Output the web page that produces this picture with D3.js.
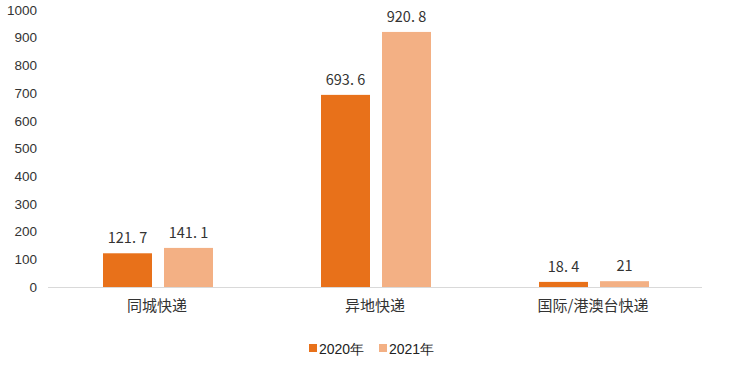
<!DOCTYPE html>
<html><head><meta charset="utf-8">
<script src="https://cdn.jsdelivr.net/npm/d3@7"></script>
<style>body{margin:0;background:#fff}svg{display:block}</style>
</head><body>
<svg id="c" width="740" height="369"></svg>
<script>
const categories = ["同城快递", "异地快递", "国际/港澳台快递"];
const series = ["2020年", "2021年"];
const values2020 = [121.7, 693.6, 18.4];
const values2021 = [141.1, 920.8, 21];
const labels2020 = ["121. 7", "693. 6", "18. 4"];
const labels2021 = ["141. 1", "920. 8", "21"];
const yTicks = [0,100,200,300,400,500,600,700,800,900,1000];
const colors = ["#E8711A", "#F3B084"];

const svg = d3.select("#c");
const y = d3.scaleLinear().domain([0,1000]).range([287,10]);
const x0 = d3.scaleBand().domain(categories).range([48,702]);
const x1 = d3.scaleBand().domain(series).range([55,165]).paddingInner(0.197);

// y tick labels
svg.append("g").selectAll("text").data(yTicks).join("text")
  .attr("x",37).attr("y",d=>y(d)).attr("dy","0.35em")
  .attr("text-anchor","end").attr("font-family","Liberation Sans, Arial, sans-serif")
  .attr("font-size",13.5).attr("fill","#333").text(d=>d);

const data = [values2020, values2021];
const lbls = [labels2020, labels2021];
series.forEach((s,si)=>{
  const g = svg.append("g");
  g.selectAll("rect").data(categories).join("rect")
    .attr("x",c=>x0(c)+x1(s)).attr("width",x1.bandwidth())
    .attr("y",(c,i)=>y(data[si][i])).attr("height",(c,i)=>y(0)-y(data[si][i]))
    .attr("fill",colors[si]);
  g.selectAll("text").data(categories).join("text")
    .attr("x",c=>x0(c)+x1(s)+x1.bandwidth()/2)
    .attr("y",(c,i)=>y(data[si][i])-10)
    .attr("text-anchor","middle")
    .attr("font-family","Noto Sans CJK SC, sans-serif").attr("font-size",14.5)
    .attr("fill","#333").text((c,i)=>lbls[si][i]);
});

// axis line
svg.append("line").attr("x1",48).attr("x2",702).attr("y1",y(0)+0.5).attr("y2",y(0)+0.5)
  .attr("stroke","#d9d9d9").attr("stroke-width",1);

// category labels
svg.append("g").selectAll("text").data(categories).join("text")
  .attr("x",c=>x0(c)+x0.bandwidth()/2).attr("y",311)
  .attr("text-anchor","middle").attr("font-family","Noto Sans CJK SC, sans-serif")
  .attr("font-size",15).attr("fill","#333").text(c=>c);

// legend
const lx = [309, 379];
series.forEach((s,i)=>{
  svg.append("rect").attr("x",lx[i]).attr("y",344).attr("width",8).attr("height",8).attr("fill",colors[i]);
  svg.append("text").attr("x",lx[i]+10).attr("y",353.5)
    .attr("font-family","Liberation Sans, Arial, sans-serif").attr("font-size",14)
    .attr("fill","#222").text(s);
});
</script>
</body></html>
